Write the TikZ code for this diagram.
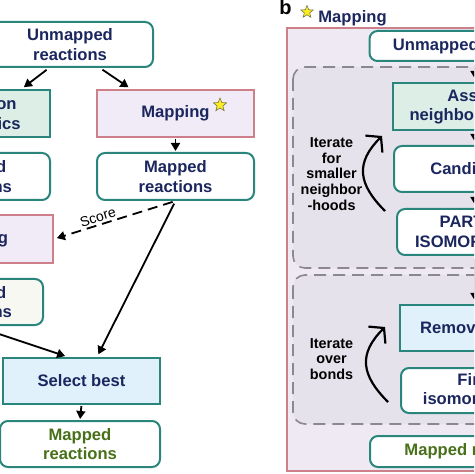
\documentclass[tikz,border=0pt]{standalone}
\usepackage{fontspec}
\setmainfont{Liberation Sans}
\usetikzlibrary{arrows.meta, shapes.geometric, calc}

\definecolor{navy}{RGB}{27,38,94}
\definecolor{tealc}{RGB}{42,134,124}
\definecolor{greentxt}{RGB}{72,112,24}
\definecolor{pinkc}{RGB}{206,128,138}
\definecolor{lavfill}{RGB}{241,235,248}
\definecolor{panelfill}{RGB}{239,233,243}
\definecolor{groupfill}{RGB}{230,226,236}
\definecolor{groupline}{RGB}{140,136,146}
\definecolor{greenfill}{RGB}{220,238,230}
\definecolor{bluefill}{RGB}{224,241,251}
\definecolor{offwhite}{RGB}{248,248,243}
\definecolor{staryel}{RGB}{250,238,30}

\begin{document}
\begin{tikzpicture}[
    x=0.5pt, y=-0.5pt,
    font=\fontsize{8.3}{9.7}\selectfont\bfseries,
    box/.style={draw=tealc, line width=1pt, text=navy, align=center,
                inner sep=2pt},
    roundbox/.style={box, fill=white, rounded corners=4pt},
    greenbox/.style={box, fill=greenfill},
    bluebox/.style={box, fill=bluefill},
    mapbox/.style={draw=pinkc, fill=lavfill, line width=1pt, text=navy,
                   align=center, inner sep=2pt},
    group/.style={draw=groupline, fill=groupfill, line width=0.8pt,
                  dash pattern=on 6pt off 3.5pt, rounded corners=6pt},
    note/.style={font=\fontsize{7.2}{7.8}\selectfont\bfseries, align=center},
    staricon/.style={star, star points=5, star point ratio=2.3,
                     fill=staryel, draw=black!60!yellow, line width=0.3pt,
                     inner sep=0pt},
    arr/.style={-{Triangle[length=4pt,width=4.5pt]}, line width=0.9pt,
                shorten <=1.5pt, shorten >=1.5pt},
    scorearr/.style={arr, dash pattern=on 5pt off 3pt},
    loop/.style={-{Straight Barb[length=5pt,width=12pt]}, line width=1.1pt,
                 looseness=1.3},
]

\useasboundingbox (0,0) rectangle (474,474);
\clip (0,0) rectangle (474,474);

% --- panel a: left column ---
\node[roundbox, minimum width=83pt, minimum height=22.5pt] (un1) at (70,44.5)
    {Unmapped\\reactions};
\node[greenbox, minimum width=68.5pt, minimum height=23.5pt] (heur) at (-18.5,113.5)
    {Reaction\\heuristics};
\node[roundbox, minimum width=75pt, minimum height=23.5pt] (lmap1) at (-25,176.5)
    {Mapped\\reactions};
\node[mapbox, minimum width=76pt, minimum height=24pt] (score) at (-23,239)
    {Scoring};
\node[roundbox, fill=offwhite, minimum width=68pt, minimum height=23pt] (lmap2) at (-25,302)
    {Mapped\\reactions};

% --- panel a: right column ---
\node[mapbox, minimum width=78.5pt, minimum height=23.5pt] (map) at (175.5,113.5)
    {Mapping};
\node[staricon, minimum size=7pt] (mapstar) at (220,105) {};
\node[roundbox, minimum width=78.5pt, minimum height=23.5pt] (mapd1) at (175.5,176.5)
    {Mapped\\reactions};

% --- panel a: bottom ---
\node[bluebox, minimum width=78.5pt, minimum height=23pt] (select) at (81.5,381)
    {Select best};
\node[roundbox, text=greentxt, minimum width=80pt, minimum height=23pt] (final) at (80,444)
    {Mapped\\reactions};

% --- panel a: connectors ---
\draw[arr] ($(un1.south)+(-21,0)$) -- ($(heur.north)+(40,0)$);
\draw[arr] ($(un1.south)+(30,0)$) -- ($(map.north)+(-44.5,0)$);
\draw[arr, shorten <=0.5pt, shorten >=0.5pt] (map.south) -- (mapd1.north);
\draw[scorearr] (mapd1.south) -- (score.east)
    node[pos=0.62, above=0pt, inner sep=1pt, sloped,
         font=\fontsize{7}{8}\selectfont\mdseries] {Score};
\draw[arr] (mapd1.south) -- ($(select.north)+(15.5,0)$);
\draw[arr] (lmap2.south) -- ($(select.north)+(-13.5,0)$);
\draw[arr, shorten <=0.5pt, shorten >=0.5pt] (select.south) -- (final.north);

% --- panel b: title and frame ---
\node[anchor=base west, inner sep=0pt,
      font=\fontsize{10}{10}\selectfont\bfseries] (lblb) at (279,15) {b};
\node[staricon, minimum size=6.5pt] (titlestar) at (307,12) {};
\node[anchor=base west, inner sep=0pt, text=navy] (title) at (318,23) {Mapping};

\draw[draw=pinkc, fill=panelfill, line width=0.9pt] (287,28) rectangle (560,471);
\draw[group] (293,67) rectangle (659,268);
\draw[group] (293,275) rectangle (659,424);

% --- panel b: steps ---
\node[roundbox, minimum width=105.5pt, minimum height=15pt] (un2) at (475,46)
    {Unmapped reactions};
\node[greenbox, minimum width=82pt, minimum height=23.5pt] (assign) at (475,106.5)
    {Assign\\neighbourhoods};
\node[roundbox, minimum width=81pt, minimum height=23pt] (cand) at (475,169)
    {Candidates};
\node[roundbox, minimum width=78pt, minimum height=23pt] (partial) at (475,232)
    {PARTIAL\\ISOMORPHISM};
\node[bluebox, minimum width=75pt, minimum height=23pt] (remove) at (475,328)
    {Remove bond};
\node[roundbox, minimum width=74pt, minimum height=22.5pt] (find) at (475,390.5)
    {Find\\isomorphism};
\node[roundbox, text=greentxt, minimum width=105pt, minimum height=15.5pt] (mapd2) at (475,451.5)
    {Mapped reactions};

\draw[arr] (un2.south) -- (assign.north);
\draw[arr] (assign.south) -- (cand.north);
\draw[arr] (cand.south) -- (partial.north);
\draw[arr] (partial.south) -- (remove.north);

% --- panel b: iteration loops ---
\node[note] (iter1) at (331.5,174) {Iterate\\for\\smaller\\neighbor\\-hoods};
\coordinate (c1s) at (385,211);
\coordinate (c1e) at (382,136);
\draw[loop] (c1s) to[out=135, in=-135] (c1e);

\node[note] (iter2) at (331.5,359) {Iterate\\over\\bonds};
\coordinate (c2s) at (388,402);
\coordinate (c2e) at (385,327);
\draw[loop] (c2s) to[out=135, in=-135] (c2e);

\end{tikzpicture}
\end{document}
